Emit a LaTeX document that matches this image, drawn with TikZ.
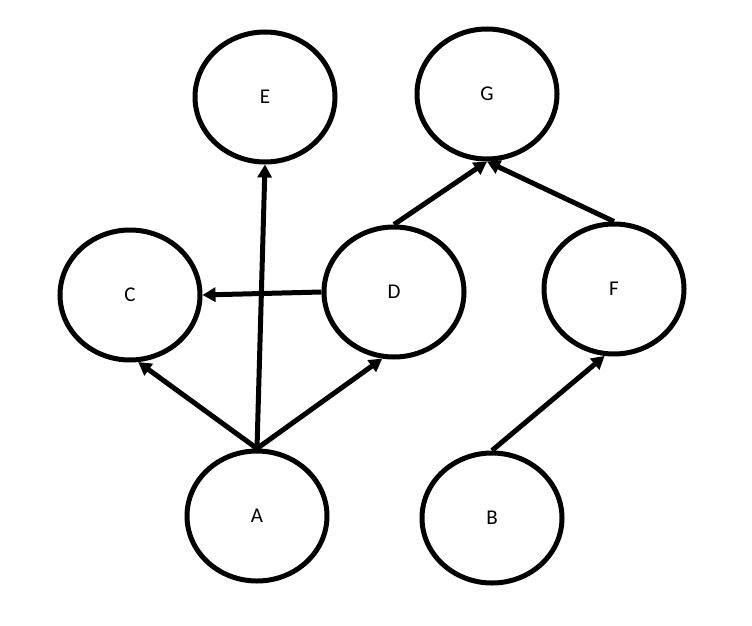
\documentclass[tikz,border=0pt]{standalone}
\usetikzlibrary{shapes.geometric,arrows.meta}
\usepackage{fontspec}
\setmainfont{Carlito}
\begin{document}
\begin{tikzpicture}[x=1pt,y=-1pt,
  vert/.style={draw,ellipse,line width=5pt,minimum width=140pt,minimum height=130pt,inner sep=0pt,font=\fontsize{21}{24}\selectfont},
  edge/.style={line width=5pt,-{Triangle[length=13pt,width=14pt]}}]
\useasboundingbox (0,0) rectangle (752,626);
\node[vert] (E) at (265,97) {E};
\node[vert] (G) at (487,94) {G};
\node[vert] (C) at (130,295) {C};
\node[vert] (D) at (394,292) {D};
\node[vert] (F) at (614,289) {F};
\node[vert] (A) at (257,516) {A};
\node[vert] (B) at (492,518) {B};
\draw[edge] (A.north) -- (E.south);
\draw[edge] (A.north) -- (C.-83);
\draw[edge] (A.north) -- (D.-100);
\draw[edge] (D.west) -- (C.east);
\draw[edge] (D.north) -- (G.south);
\draw[edge] (F.north) -- (G.south);
\draw[edge] (B.north) -- (F.-98);
\end{tikzpicture}
\end{document}
